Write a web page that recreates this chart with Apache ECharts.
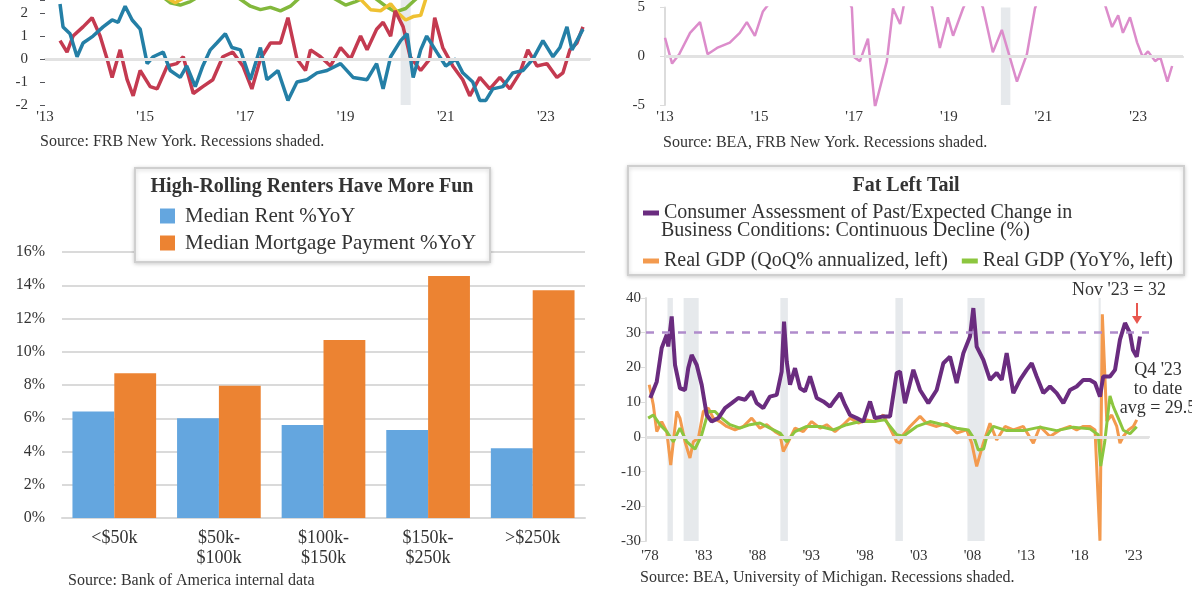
<!DOCTYPE html>
<html>
<head>
<meta charset="utf-8">
<script src="https://cdn.jsdelivr.net/npm/echarts@6.0.0/dist/echarts.min.js"></script>
<style>
html, body { margin: 0; padding: 0; background: #fff; }
#chart { width: 1192px; height: 600px; }
</style>
</head>
<body>
<div id="chart"></div>
<script>
// top left: FRB New York gauges, [year, value]
const nyBlue = [[2013.3,2.4],[2013.36,1.4],[2013.5,1.1],[2013.64,0.1],[2013.76,0.7],[2013.96,1.0],[2014.16,1.4],[2014.34,1.7],[2014.46,1.6],[2014.6,2.3],[2014.74,1.7],[2014.9,1.3],[2015.04,-0.2],[2015.16,0.1],[2015.36,0.3],[2015.5,-0.5],[2015.7,-0.8],[2015.83,-0.3],[2016.0,-1.2],[2016.15,-0.3],[2016.3,0.4],[2016.43,0.7],[2016.6,1.1],[2016.73,0.5],[2016.9,0.4],[2017.1,-0.9],[2017.3,0.5],[2017.43,-0.9],[2017.65,-0.5],[2017.85,-1.8],[2018.03,-1.0],[2018.23,-0.9],[2018.43,-0.6],[2018.63,-0.5],[2018.9,-0.2],[2019.15,-0.8],[2019.43,-0.9],[2019.62,-0.2],[2019.75,-1.3],[2019.9,0.1],[2020.1,0.8],[2020.23,1.1],[2020.35,-0.8],[2020.5,0.4],[2020.62,1.0],[2020.82,0.3],[2021.0,-0.3],[2021.2,0.0],[2021.34,-0.6],[2021.54,-1.0],[2021.68,-1.8],[2021.8,-1.8],[2021.94,-1.3],[2022.14,-1.2],[2022.34,-0.6],[2022.54,-0.5],[2022.74,0.0],[2022.94,0.8],[2023.14,0.1],[2023.28,0.5],[2023.42,1.4],[2023.52,0.4],[2023.62,0.8],[2023.74,1.3]]
const nyRed = [[2013.3,0.8],[2013.44,0.3],[2013.56,1.0],[2013.76,1.4],[2013.94,1.8],[2014.1,1.0],[2014.24,0.0],[2014.34,-0.8],[2014.5,0.4],[2014.64,-0.9],[2014.76,-1.6],[2014.9,-0.5],[2015.1,-1.2],[2015.24,-1.3],[2015.44,-0.3],[2015.63,-0.2],[2015.76,0.1],[2015.96,-1.5],[2016.15,-1.2],[2016.35,-0.9],[2016.55,0.1],[2016.75,0.3],[2016.95,-0.3],[2017.13,-1.3],[2017.3,0.0],[2017.5,0.7],[2017.7,0.7],[2017.85,1.8],[2018.03,0.0],[2018.2,-0.5],[2018.3,0.4],[2018.5,0.1],[2018.7,-0.3],[2018.9,0.5],[2019.1,0.0],[2019.3,1.0],[2019.43,0.4],[2019.62,1.3],[2019.75,1.6],[2019.9,1.0],[2019.99,2.1],[2020.15,1.4],[2020.29,0.1],[2020.5,-0.5],[2020.68,0.0],[2020.78,1.8],[2020.94,0.5],[2021.14,-0.3],[2021.34,-0.9],[2021.48,-1.6],[2021.68,-0.8],[2021.88,-1.3],[2022.08,-0.8],[2022.28,-1.3],[2022.48,-0.6],[2022.64,0.4],[2022.82,-0.3],[2023.02,-0.2],[2023.22,-0.8],[2023.34,-0.6],[2023.48,0.4],[2023.62,0.7],[2023.74,1.4]]
const nyGreen = [[2013.3,3.4],[2014.0,3.2],[2014.8,3.0],[2015.3,2.8],[2015.5,2.45],[2015.7,2.35],[2015.9,2.5],[2016.2,2.9],[2016.6,3.1],[2016.9,2.6],[2017.1,2.3],[2017.3,2.15],[2017.5,2.25],[2017.7,2.1],[2017.9,2.3],[2018.1,2.7],[2018.5,3.0],[2018.8,2.6],[2019.0,2.35],[2019.2,2.5],[2019.5,2.8],[2019.8,2.3],[2020.0,2.05],[2020.2,2.2],[2020.4,2.6],[2020.7,3.2],[2021.2,4.0],[2022.0,6.0],[2023.0,4.0],[2023.8,3.5]]
const nyYellow = [[2013.3,3.6],[2015.0,3.2],[2015.4,2.7],[2015.6,2.45],[2015.8,2.7],[2016.5,3.2],[2018.5,3.1],[2019.3,2.6],[2019.5,2.15],[2019.7,2.1],[2019.9,2.4],[2020.05,2.0],[2020.2,1.7],[2020.35,1.85],[2020.5,1.9],[2020.6,2.6],[2021.0,3.8],[2022.0,5.0],[2023.8,3.6]]
const recessionsTop = [[2020.1, 2020.3]]

// top right: BEA / FRB New York
const pinkSeries = [[2013.0,1.9],[2013.15,-0.75],[2013.3,0.2],[2013.53,2.4],[2013.74,3.5],[2013.9,0.2],[2014.1,0.85],[2014.37,1.4],[2014.58,2.4],[2014.73,3.5],[2014.9,2.1],[2015.07,4.6],[2015.33,6.2],[2015.8,7.5],[2016.3,8.0],[2016.7,7.0],[2016.95,5.0],[2017.0,-0.1],[2017.12,-0.5],[2017.29,1.8],[2017.44,-5.2],[2017.69,-0.5],[2017.82,4.9],[2017.97,3.3],[2018.1,6.5],[2018.4,7.5],[2018.65,5.0],[2018.81,0.85],[2018.98,4.0],[2019.09,2.1],[2019.3,4.9],[2019.5,7.0],[2019.72,5.0],[2019.93,0.4],[2020.12,2.7],[2020.44,-2.6],[2020.65,0.2],[2020.82,4.9],[2021.2,10],[2021.7,12],[2022.0,8],[2022.3,5.3],[2022.45,3.0],[2022.58,4.2],[2022.68,2.4],[2022.83,4.0],[2022.98,1.4],[2023.1,-0.1],[2023.21,0.5],[2023.36,-0.5],[2023.47,-0.1],[2023.62,-2.6],[2023.72,-1.0]]

// bottom left: Bank of America
const incomeBands = ['<$50k', '$50k-\n$100k', '$100k-\n$150k', '$150k-\n$250k', '>$250k']
const rentYoY = [6.4, 6.0, 5.6, 5.3, 4.2]
const mortgageYoY = [8.7, 7.95, 10.7, 14.55, 13.7]

// bottom right: Michigan survey and real GDP
const cbPurple = [[1978.4,11.2],[1979.0,15.9],[1979.46,25.6],[1979.93,29.4],[1980.07,26.0],[1980.39,34.7],[1980.7,20.7],[1981.16,14.0],[1981.63,13.5],[1981.93,19.8],[1982.25,23.6],[1982.72,20.7],[1983.18,15.0],[1983.65,6.3],[1984.11,4.4],[1984.73,5.4],[1985.35,8.3],[1985.97,9.7],[1986.59,11.2],[1987.21,10.7],[1987.83,13.1],[1988.3,9.7],[1988.91,8.3],[1989.53,11.6],[1990.16,12.1],[1990.62,18.8],[1990.84,33.2],[1991.09,21.7],[1991.4,15.0],[1991.86,19.8],[1992.33,14.0],[1992.79,13.1],[1993.26,17.4],[1993.88,11.2],[1994.49,10.2],[1995.12,8.7],[1995.58,10.7],[1996.05,12.6],[1996.51,9.2],[1996.98,6.3],[1997.6,5.4],[1998.21,4.4],[1998.84,10.2],[1999.3,5.4],[2000.07,5.9],[2000.7,5.9],[2001.32,18.4],[2001.63,18.8],[2002.09,9.7],[2002.87,19.3],[2003.49,13.5],[2004.26,9.7],[2005.04,13.5],[2005.66,21.2],[2006.28,23.1],[2006.9,15.5],[2007.52,24.1],[2008.14,28.9],[2008.45,37.1],[2008.76,26.0],[2009.38,22.2],[2010.0,16.4],[2010.62,18.4],[2011.09,16.4],[2011.55,24.1],[2012.17,12.6],[2012.79,16.4],[2013.41,19.3],[2013.88,21.2],[2014.34,17.4],[2014.96,12.6],[2015.58,14.5],[2016.2,12.6],[2016.82,9.7],[2017.44,13.5],[2018.06,14.5],[2018.68,16.4],[2019.3,16.4],[2019.77,15.5],[2020.23,11.6],[2020.53,17.4],[2021.16,17.4],[2021.63,19.3],[2022.09,28.0],[2022.56,32.8],[2023.02,29.9],[2023.3,25.0],[2023.65,23.1],[2023.95,28.9]]
const gdpQoQ = [[1978.3,15.0],[1978.68,9.2],[1979.0,1.5],[1979.46,4.4],[1979.93,1.5],[1980.3,-8.1],[1980.86,7.3],[1981.16,5.4],[1981.63,-1.4],[1982.09,-6.1],[1982.4,-1.4],[1982.87,-0.4],[1983.33,7.3],[1983.8,8.3],[1984.26,5.4],[1984.88,4.4],[1985.5,3.0],[1986.28,2.0],[1987.05,3.0],[1987.83,5.4],[1988.6,2.5],[1989.23,3.5],[1990.0,1.5],[1990.47,0.6],[1990.77,-4.2],[1991.24,-1.4],[1991.86,2.5],[1992.63,1.5],[1993.41,4.4],[1994.19,2.5],[1994.81,3.5],[1995.58,1.5],[1996.35,3.5],[1996.98,5.4],[1997.75,4.0],[1998.53,4.9],[1999.3,4.4],[2000.07,6.3],[2000.7,2.5],[2001.32,-1.4],[2001.63,-1.8],[2001.93,0.6],[2002.56,3.0],[2003.49,5.9],[2004.1,3.9],[2005.04,3.0],[2005.97,3.9],[2006.9,1.1],[2007.83,2.0],[2008.3,-1.8],[2008.76,-8.5],[2009.38,-1.8],[2010.0,3.9],[2010.62,-0.9],[2011.4,3.0],[2012.17,2.0],[2013.1,3.0],[2014.03,-1.8],[2014.65,3.0],[2015.58,0.1],[2016.51,2.0],[2017.44,3.0],[2018.06,2.0],[2018.68,3.0],[2019.3,3.0],[2019.77,2.0],[2020.23,-29.9],[2020.45,35.3],[2020.86,4.5],[2021.32,6.3],[2021.79,3.0],[2022.09,-1.8],[2022.4,0.1],[2022.87,2.0],[2023.33,3.0],[2023.65,4.9]]
const gdpYoY = [[1978.2,5.4],[1978.68,6.3],[1979.3,3.5],[1979.93,1.5],[1980.54,-1.4],[1981.16,2.5],[1981.79,-1.4],[1982.56,-3.5],[1983.18,0.6],[1983.8,7.3],[1984.42,7.3],[1985.04,5.4],[1985.81,3.5],[1986.74,2.5],[1987.67,3.5],[1988.6,4.0],[1989.53,2.5],[1990.47,1.1],[1991.09,-1.4],[1991.86,1.5],[1992.95,3.0],[1994.19,3.0],[1995.42,2.0],[1996.67,3.5],[1997.91,4.4],[1999.14,4.4],[2000.23,4.9],[2001.32,0.6],[2001.93,0.2],[2003.18,3.0],[2004.42,4.4],[2005.66,3.5],[2006.9,2.5],[2007.98,2.0],[2008.6,-0.9],[2008.91,-3.8],[2009.4,-3.5],[2009.7,0.1],[2010.31,3.0],[2011.55,1.8],[2013.1,1.8],[2014.65,2.8],[2016.2,1.8],[2017.75,2.8],[2019.3,2.3],[2020.07,0.6],[2020.3,-8.4],[2020.67,-1.5],[2021.16,11.8],[2021.47,8.7],[2021.93,5.4],[2022.4,1.9],[2023.02,0.9],[2023.65,2.9]]
const recessionsBottom = [[1980.0, 1980.5], [1981.5, 1982.9], [1990.5, 1991.2], [2001.2, 2001.9], [2007.9, 2009.5], [2020.1, 2020.3]]
const novValue = 32
const q4Avg = 29.5

const FONT = '"Liberation Serif", "DejaVu Serif", serif'
const TXT = '#333'
const purpleName = 'Consumer Assessment of Past/Expected Change in Business Conditions: Continuous Decline (%)'

const isWhole = v => Math.abs(v - Math.round(v)) < 1e-6
const yearLabel = v => isWhole(v) ? "'" + String(Math.round(v)).slice(2) : ''
const wholeLabel = v => isWhole(v) ? String(Math.round(v)) : ''
const labelStyle = { fontFamily: FONT, fontSize: 15, color: TXT }

const line = (name, data, color, idx, width) => ({
  name, type: 'line', xAxisIndex: idx, yAxisIndex: idx, data,
  symbol: 'none', showSymbol: false, silent: true, clip: true,
  lineStyle: { color, width: width || 3.5 }, itemStyle: { color }
})
const zeroLine = { silent: true, symbol: 'none', label: { show: false },
  lineStyle: { color: '#e2e2e2', width: 3, type: 'solid' }, data: [{ yAxis: 0 }] }
const shade = list => ({ silent: true, itemStyle: { color: 'rgba(222,225,230,0.75)' },
  data: list.map(r => [{ xAxis: r[0] }, { xAxis: r[1] }]) })

const timeX = (idx, min, max, interval, margin, padLeft) => ({
  gridIndex: idx, type: 'value', min, max, interval,
  axisLine: { lineStyle: { color: '#dcdcdc', width: 2 } },
  axisTick: { show: false }, splitLine: { show: false },
  axisLabel: Object.assign({ formatter: yearLabel, margin, padding: [0, 0, 0, padLeft || 0] }, labelStyle)
})
const txt = (x, y, text, size, extra) => ({
  type: 'text', z: 11, x, y,
  style: Object.assign({ text, font: size + 'px ' + FONT, fill: TXT,
    verticalAlign: 'middle', textVerticalAlign: 'middle' }, extra || {})
})
const centered = { align: 'center', textAlign: 'center' }

const chart = echarts.init(document.getElementById('chart'))
chart.setOption({
  animation: false,
  grid: [
    { left: 45, top: 0, width: 545, height: 105 },
    { left: 665, top: 0, width: 518, height: 105 },
    { left: 62, top: 252, width: 523, height: 266 },
    { left: 646, top: 298, width: 503, height: 243 }
  ],
  xAxis: [
    timeX(0, 2013, 2023.88, 2, 5),
    timeX(1, 2013, 2023.95, 2, 5),
    { gridIndex: 2, type: 'category', data: incomeBands,
      axisLine: { lineStyle: { color: '#d9d9d9', width: 2 } }, axisTick: { show: false },
      axisLabel: Object.assign({}, labelStyle, { margin: 10, lineHeight: 20, fontSize: 18 }) },
    timeX(3, 1978, 2024.79, 5, 8, 8)
  ],
  yAxis: [
    { gridIndex: 0, min: -2, max: 2.57, interval: 1, axisLine: { show: false }, splitLine: { show: false },
      axisLabel: Object.assign({ margin: 17, formatter: wholeLabel }, labelStyle) },
    { gridIndex: 1, min: -5, max: 5, interval: 5, splitLine: { show: false },
      axisLine: { show: true, lineStyle: { color: '#dcdcdc', width: 2 } },
      axisLabel: Object.assign({ margin: 20 }, labelStyle) },
    { gridIndex: 2, min: 0, max: 16, interval: 2, axisLine: { show: false },
      splitLine: { lineStyle: { color: '#dadada', width: 2 } },
      axisLabel: Object.assign({}, labelStyle, { margin: 17, fontSize: 16, formatter: '{value}%' }) },
    { gridIndex: 3, min: -30, max: 40, interval: 10, splitLine: { show: false },
      axisLine: { show: true, lineStyle: { color: '#dcdcdc', width: 2 } },
      axisLabel: Object.assign({ margin: 5 }, labelStyle) }
  ],
  legend: [
    { left: 155, top: 199, orient: 'vertical', itemGap: 3, itemWidth: 15, itemHeight: 15,
      icon: 'rect', selectedMode: false, z: 10,
      data: ['Median Rent %YoY', 'Median Mortgage Payment %YoY'],
      textStyle: { fontFamily: FONT, fontSize: 21, lineHeight: 24, color: TXT, padding: [0, 0, 0, 5] } },
    { left: 638, top: 197, itemWidth: 16, itemHeight: 5, icon: 'rect', selectedMode: false, z: 10,
      data: [purpleName],
      formatter: () => 'Consumer Assessment of Past/Expected Change in',
      textStyle: { fontFamily: FONT, fontSize: 20, color: TXT, lineHeight: 22 } },
    { left: 638, top: 245, itemGap: 14, itemWidth: 16, itemHeight: 5, icon: 'rect', selectedMode: false, z: 10,
      data: ['Real GDP (QoQ% annualized, left)', 'Real GDP (YoY%, left)'],
      textStyle: { fontFamily: FONT, fontSize: 20, color: TXT, lineHeight: 22 } }
  ],
  series: [
    Object.assign(line('ny green', nyGreen, '#82b83c', 0), { markLine: zeroLine, markArea: shade(recessionsTop) }),
    line('ny yellow', nyYellow, '#efc132', 0),
    line('ny red', nyRed, '#c43a50', 0),
    line('ny blue', nyBlue, '#247fa6', 0),

    Object.assign(line('pink', pinkSeries, '#dc8ccb', 1, 2.5), { markLine: zeroLine, markArea: shade(recessionsTop) }),

    { name: 'Median Rent %YoY', type: 'bar', xAxisIndex: 2, yAxisIndex: 2, data: rentYoY,
      barGap: '0%', barCategoryGap: '20%', itemStyle: { color: '#64a6df' } },
    { name: 'Median Mortgage Payment %YoY', type: 'bar', xAxisIndex: 2, yAxisIndex: 2, data: mortgageYoY,
      barGap: '0%', barCategoryGap: '20%', itemStyle: { color: '#ec8332' } },

    Object.assign(line(purpleName, cbPurple, '#6a2c7f', 3, 4), {
      z: 4,
      markArea: shade(recessionsBottom),
      markLine: { silent: true, symbol: 'none', label: { show: false },
        lineStyle: { color: '#b08ccc', width: 2.5, type: [8, 8] }, data: [{ yAxis: 30 }] }
    }),
    Object.assign(line('Real GDP (QoQ% annualized, left)', gdpQoQ, '#f39a4e', 3, 3), { markLine: zeroLine }),
    line('Real GDP (YoY%, left)', gdpYoY, '#8cc63f', 3, 3)
  ],
  graphic: [
    { type: 'rect', z: 5, shape: { x: 135, y: 168, width: 355, height: 94 },
      style: { fill: '#fff', stroke: '#cfcfcf', lineWidth: 2, shadowBlur: 4, shadowColor: 'rgba(0,0,0,0.18)', shadowOffsetY: 1 } },
    { type: 'rect', z: 5, shape: { x: 628, y: 166, width: 556, height: 109 },
      style: { fill: '#fff', stroke: '#cfcfcf', lineWidth: 2, shadowBlur: 4, shadowColor: 'rgba(0,0,0,0.18)', shadowOffsetY: 1 } },
    txt(312, 187, 'High-Rolling Renters Have More Fun', 20, Object.assign({ font: 'bold 20px ' + FONT }, centered)),
    txt(906, 186, 'Fat Left Tail', 20, Object.assign({ font: 'bold 20px ' + FONT }, centered)),
    txt(661, 231, 'Business Conditions: Continuous Decline (%)', 20),
    txt(40, 142, 'Source: FRB New York. Recessions shaded.', 16),
    txt(663, 143, 'Source: BEA, FRB New York. Recessions shaded.', 16),
    txt(68, 581, 'Source: Bank of America internal data', 16),
    txt(640, 578, 'Source: BEA, University of Michigan. Recessions shaded.', 16),
    txt(1119, 290, "Nov '23 = " + novValue, 18, centered),
    { type: 'line', z: 11, shape: { x1: 1137, y1: 303, x2: 1137, y2: 318 }, style: { stroke: '#e8574f', lineWidth: 2 } },
    { type: 'polygon', z: 11, shape: { points: [[1132, 316], [1142, 316], [1137, 324]] }, style: { fill: '#e8574f' } },
    txt(1158, 389, "Q4 '23\nto date\navg = " + q4Avg, 18, Object.assign({ lineHeight: 19 }, centered))
  ]
})
</script>
</body>
</html>
